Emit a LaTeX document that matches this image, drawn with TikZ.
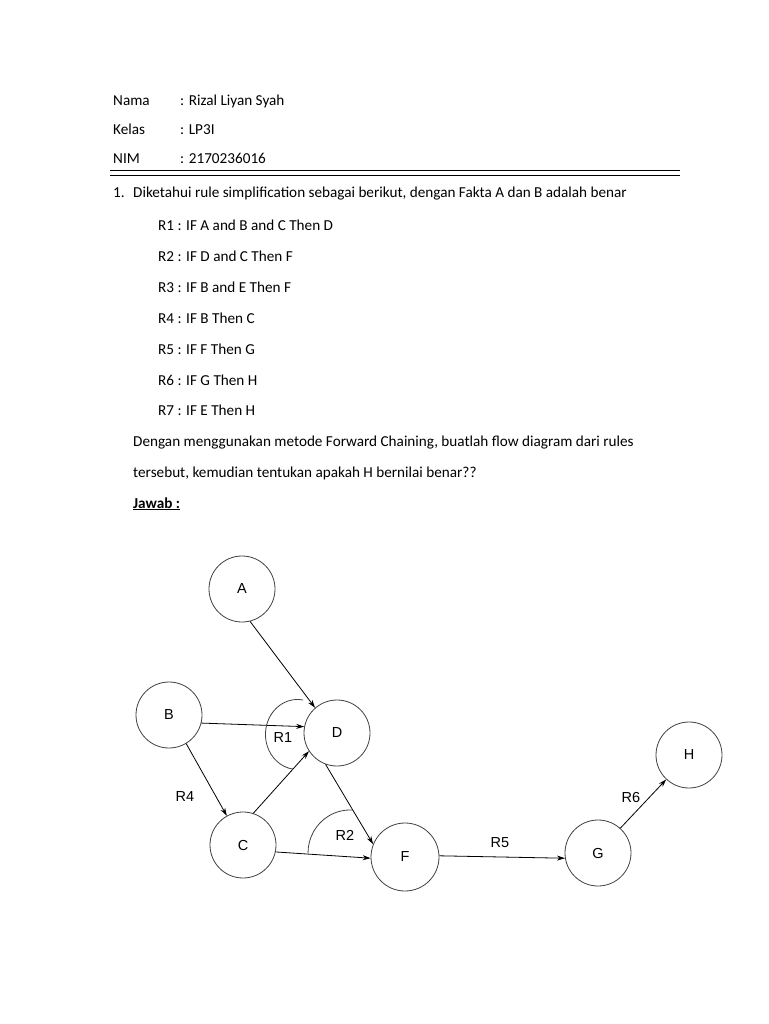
\documentclass[tikz,border=0pt]{standalone}
\usepackage{fontspec}
\setmainfont{Carlito}
\newfontfamily\arialfont{Liberation Sans}
\usetikzlibrary{arrows.meta}

\begin{document}
\begin{tikzpicture}[x=1pt, y=1pt, every node/.style={inner sep=0pt},
  txt/.style={anchor=base west, font=\fontsize{15.2}{17}\selectfont},
  fact/.style={circle, draw=black!75, line width=0.8pt, minimum size=66pt, font=\arialfont\fontsize{14.5}{16}\selectfont},
  rlabel/.style={font=\arialfont\fontsize{14.5}{16}\selectfont},
  link/.style={-{Stealth[length=8pt,width=5pt]}, line width=0.8pt}]
  \useasboundingbox (0,0) rectangle (768,-1024);
  % header
  \node[txt] (nama) at (113,-106) {Nama};
  \node[txt] (namav) at (180,-106) {: Rizal Liyan Syah};
  \node[txt] (kelas) at (113,-135) {Kelas};
  \node[txt] (kelasv) at (180,-135) {: LP3I};
  \node[txt] (nim) at (113,-164) {NIM};
  \node[txt] (nimv) at (180,-164) {: 2170236016};
  \draw[line width=1pt] (110,-171) -- (680,-171);
  \draw[line width=1pt] (110,-175.5) -- (680,-175.5);
  % question
  \node[txt] (no) at (113,-198) {1.};
  \node[txt] (soal) at (133,-198) {Diketahui rule simplification sebagai berikut, dengan Fakta A dan B adalah benar};
  \node[txt] (r1) at (158,-230) {R1 : IF A and B and C Then D};
  \node[txt] (r2) at (158,-261) {R2 : IF D and C Then F};
  \node[txt] (r3) at (158,-292) {R3 : IF B and E Then F};
  \node[txt] (r4) at (158,-323) {R4 : IF B Then C};
  \node[txt] (r5) at (158,-354) {R5 : IF F Then G};
  \node[txt] (r6) at (158,-385) {R6 : IF G Then H};
  \node[txt] (r7) at (158,-415) {R7 : IF E Then H};
  \node[txt] (tanya1) at (133,-446) {Dengan menggunakan metode Forward Chaining, buatlah flow diagram dari rules};
  \node[txt] (tanya2) at (133,-477) {tersebut, kemudian tentukan apakah H bernilai benar??};
  \node[txt] (jawab) at (133,-508) {\underline{\textbf{Jawab :}}};
  % diagram
  \node[fact] (A) at (242,-589) {A};
  \node[fact] (B) at (169,-715) {B};
  \node[fact] (D) at (337,-733) {D};
  \node[fact] (C) at (243,-845) {C};
  \node[fact, minimum size=68pt] (F) at (405,-857) {F};
  \node[fact] (G) at (598,-853) {G};
  \node[fact] (H) at (689,-755) {H};
  \draw[link] (A.-76) -- (D.131);
  \draw[link] (B.-14) -- (D.169);
  \draw[link] (B.-59) -- (C.119);
  \draw[link] (C.72) -- (D.213);
  \draw[link] (C.-12) -- (F.182);
  \draw[link] (D.-110) -- (F.158);
  \draw[link] (F.2) -- (G.189);
  \draw[link] (G.48) -- (H.227);
  \draw[line width=0.8pt, black!75] (303,-700) arc[start angle=80, end angle=262, x radius=32, y radius=35];
  \draw[line width=0.8pt, black!75] (308,-853) arc[start angle=180, end angle=86, x radius=42, y radius=43];
  \node[rlabel] (lr1) at (283,-738) {R1};
  \node[rlabel] (lr4) at (185,-797) {R4};
  \node[rlabel] (lr2) at (345,-835) {R2};
  \node[rlabel] (lr5) at (500,-843) {R5};
  \node[rlabel] (lr6) at (631,-797) {R6};
\end{tikzpicture}
\end{document}
